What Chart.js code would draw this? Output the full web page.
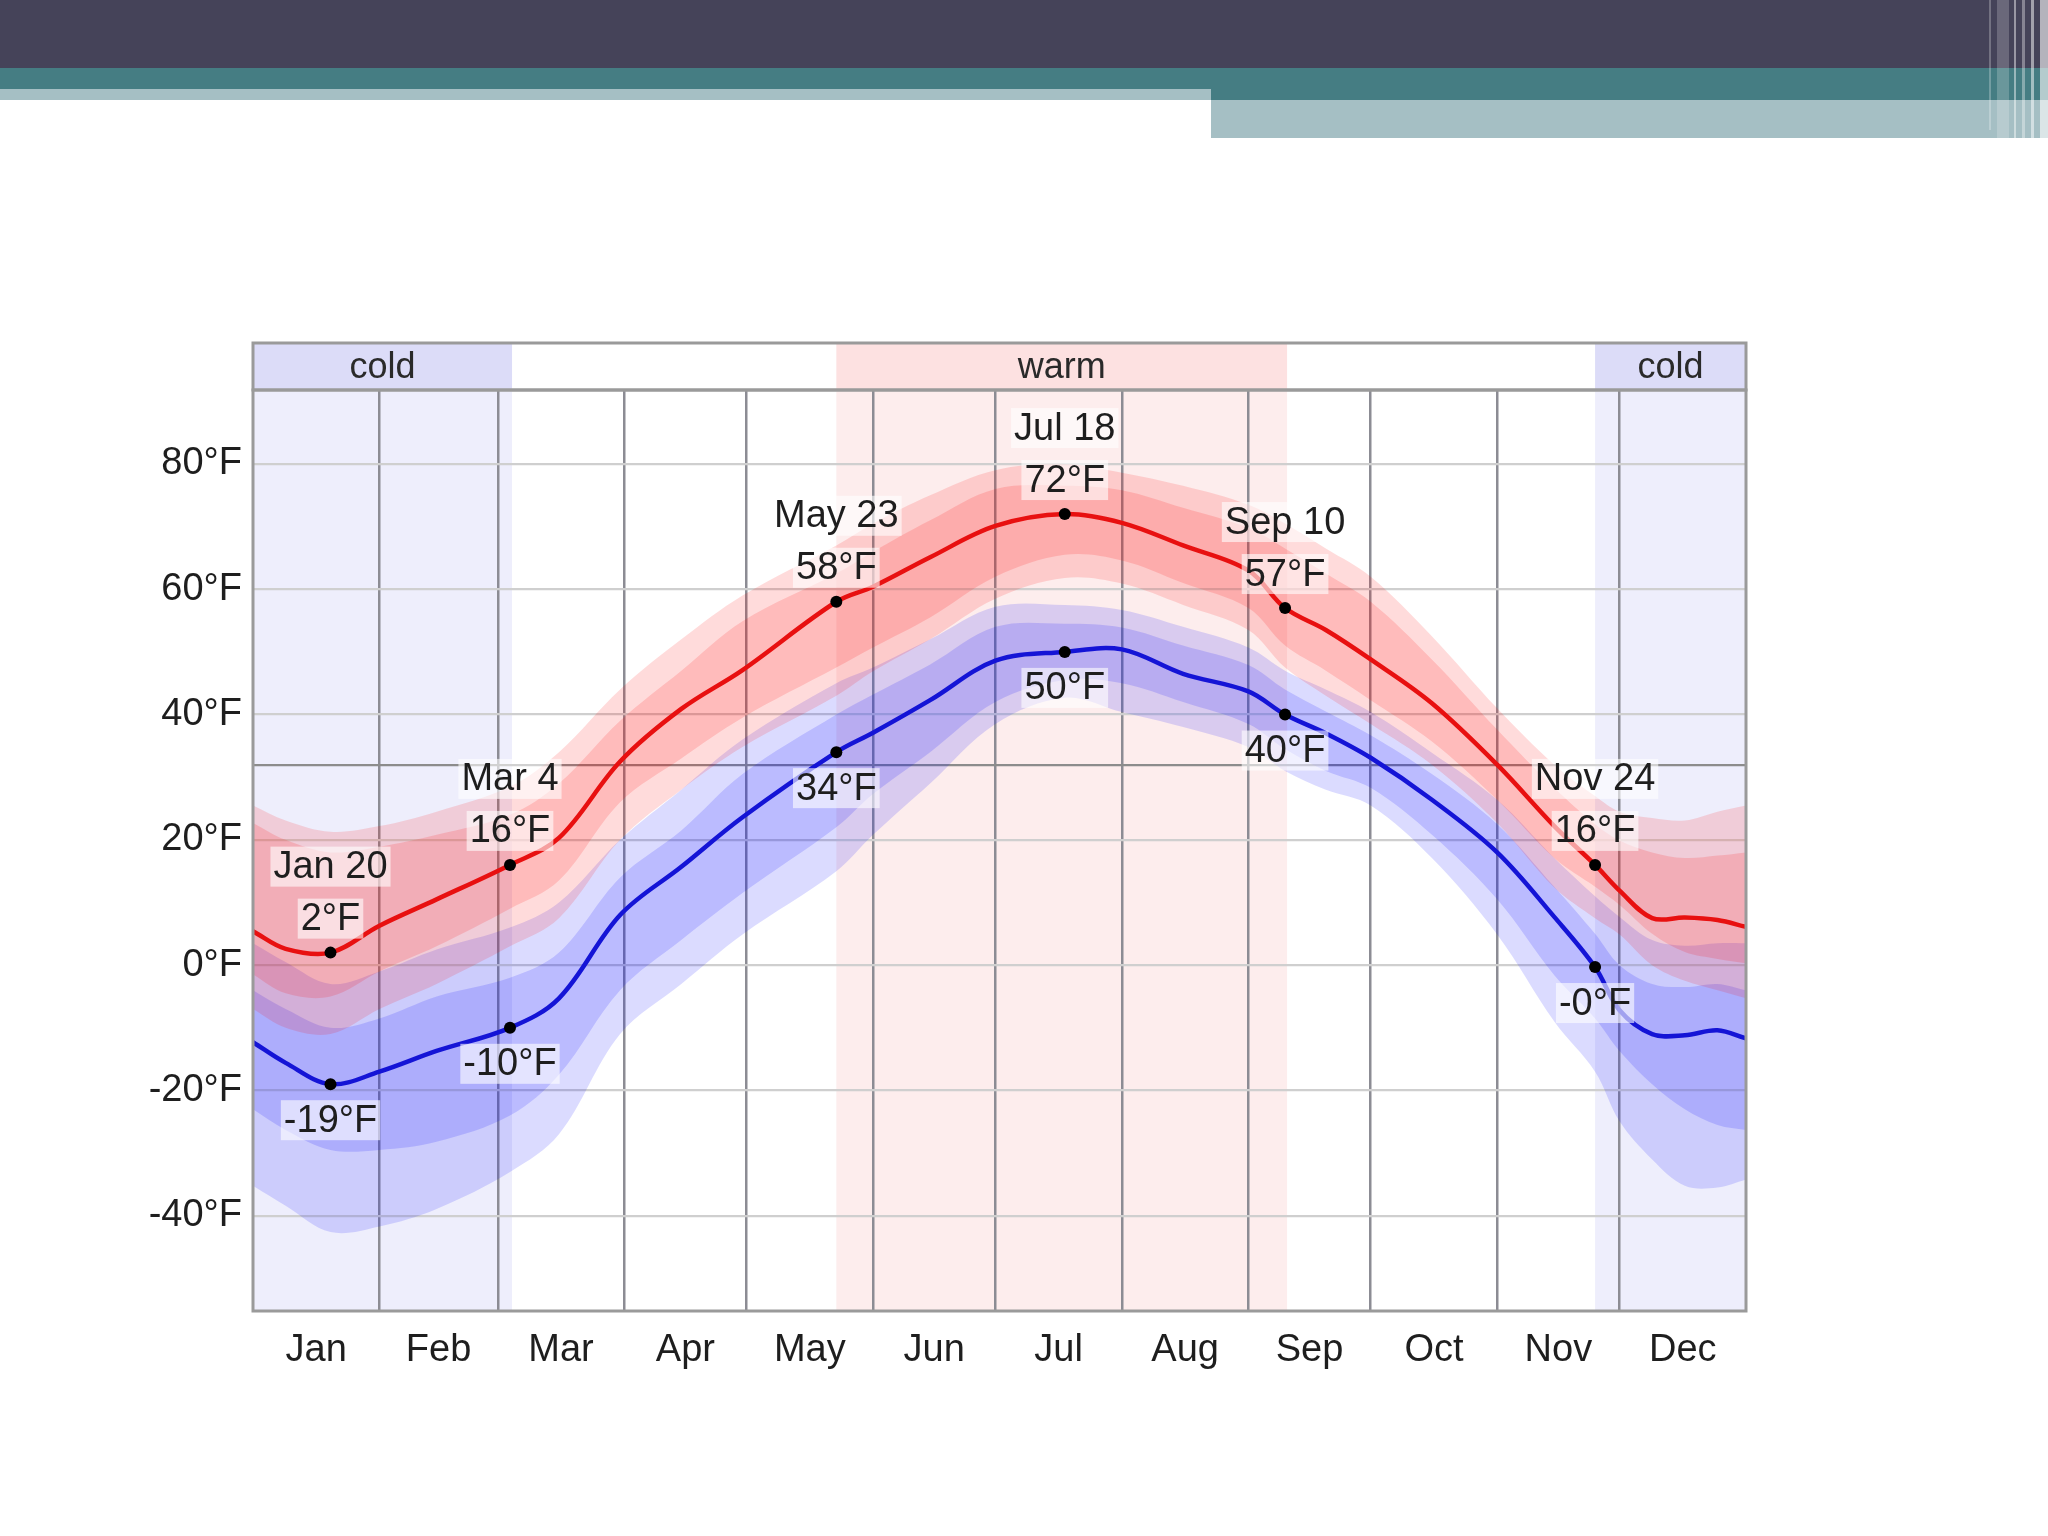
<!DOCTYPE html>
<html>
<head>
<meta charset="utf-8">
<script src="https://cdn.jsdelivr.net/npm/chart.js@4.4.1/dist/chart.umd.min.js"></script>
<style>
  html, body { margin: 0; padding: 0; background: #fff; }
  #page { position: relative; width: 2048px; height: 1536px; overflow: hidden; background: #fff; }
  .bar { position: absolute; }
  canvas { position: absolute; left: 0; top: 0; }
</style>
</head>
<body>
<div id="page">
  <div class="bar" style="left:0;top:0;width:2048px;height:68px;background:#454359"></div>
  <div class="bar" style="left:0;top:68px;width:2048px;height:21px;background:#457d83"></div>
  <div class="bar" style="left:0;top:89px;width:1211px;height:11px;background:#a5bfc4"></div>
  <div class="bar" style="left:1211px;top:89px;width:837px;height:11px;background:#457d83"></div>
  <div class="bar" style="left:1211px;top:100px;width:837px;height:38px;background:#a5bfc4"></div>
  <!-- thin stripes at the right edge of the banner -->
  <div class="bar" style="left:1989px;top:0;width:2px;height:130px;background:rgba(255,255,255,0.25)"></div>
  <div class="bar" style="left:1997px;top:0;width:12px;height:138px;background:rgba(255,255,255,0.2)"></div>
  <div class="bar" style="left:2014px;top:0;width:2px;height:138px;background:rgba(255,255,255,0.45)"></div>
  <div class="bar" style="left:2022px;top:0;width:3px;height:138px;background:rgba(255,255,255,0.35)"></div>
  <div class="bar" style="left:2031px;top:0;width:3px;height:138px;background:rgba(255,255,255,0.5)"></div>
  <div class="bar" style="left:2040px;top:0;width:8px;height:138px;background:rgba(255,255,255,0.6)"></div>
  <canvas id="c" width="2048" height="1536"></canvas>
</div>
<script>
// day of year (leap year, Jan 1 = 0) for each sample
const days = [0, 8, 19, 31, 45, 63, 75, 90, 105, 120, 143, 152, 166, 182, 199, 213, 228, 244, 253, 263, 274, 289, 305, 319, 329, 335, 343, 351, 359, 366];

// daily high, °F
const avgHigh = [5.4, 2.6, 2.0, 6.3, 10.5, 16, 20.3, 32.5, 40.9, 47.1, 58, 60.4, 65.1, 70.1, 72, 70.6, 67, 63, 57, 53.5, 48.8, 41.8, 32, 22.2, 16, 11.9, 7.5, 7.6, 7.2, 6.1];
const highP90 = [25.5, 23.1, 21.3, 22.2, 24.5, 28.5, 34, 44, 52, 59, 67, 70.5, 75, 79, 80, 78.6, 76.5, 73.5, 70.5, 66.5, 62, 52.5, 41, 32, 27, 24.5, 23.5, 23.1, 24.5, 25.5];
const highP75 = [22.7, 20, 18, 18.9, 20.8, 24, 29, 39, 47, 54.9, 62.5, 66, 71, 76, 76.5, 75.8, 73, 69.8, 66.5, 62.5, 58, 48.8, 37.6, 28.3, 22.5, 19.9, 18, 17.1, 17.5, 18];
const highP25 = [-1.5, -4.5, -5, -1, 3, 9, 13.5, 26, 33, 39.5, 47.5, 50.7, 55.5, 62, 65.5, 64.6, 61, 57, 51, 47, 42.3, 35.7, 26.4, 17.1, 12.5, 9.6, 5, 2.1, 1, 0.3];
const highP10 = [-7, -10, -11, -7, -3, 3, 7.5, 20, 28, 34.8, 43, 46.9, 52, 58.5, 61.8, 60.9, 57.5, 53.5, 47.5, 43, 38.5, 32, 22.7, 12.4, 7.5, 4.9, 0, -2.5, -4, -5.3];

// daily low, °F
const avgLow = [-12.3, -15.6, -19, -17, -13.7, -10, -5.3, 8, 15.7, 23.6, 34, 37.1, 42.3, 48.6, 50, 50.4, 46.5, 43.7, 40, 37, 33.1, 26.4, 18, 7.7, -0.3, -7.2, -11, -11.2, -10.4, -11.7];
const lowP90 = [3.5, 0.5, -3, -1, 2.5, 6, 10, 20, 28, 36, 45, 47.5, 52, 57.2, 57.5, 56.7, 54, 50.7, 47, 44, 40.4, 33.9, 26.4, 17.1, 11, 7.7, 4, 3.1, 3.5, 3.5];
const lowP75 = [-4, -7, -10, -8.5, -5, -2, 2, 14, 21.5, 30.5, 40, 43.2, 48, 54, 54.5, 53.9, 51, 47.9, 44, 40.5, 36.7, 30.5, 22.5, 12.5, 5, 0, -3, -3.5, -3, -4];
const lowP25 = [-23, -26.3, -29.5, -29.5, -28.2, -24, -17.5, -4, 4, 11.5, 22, 27.3, 34, 42, 45.5, 45, 42, 38.5, 34.5, 31, 28.3, 20.8, 10.5, -1.6, -8.5, -13.7, -19, -23, -25.5, -26.3];
const lowP10 = [-35.2, -38.4, -42.6, -41.7, -38.9, -33, -27, -11, -3, 4.9, 15, 20.8, 29, 38.5, 42.7, 40.4, 38, 34.8, 31, 28, 25.5, 17.1, 4.9, -9, -17, -24.9, -31, -35.2, -35.5, -34.2];

// labelled days
const markDays = [19, 63, 143, 199, 253, 329];
const markDates = ['Jan 20', 'Mar 4', 'May 23', 'Jul 18', 'Sep 10', 'Nov 24'];
const markHigh = [2, 16, 58, 72, 57, 16];
const markLow = [-19, -10, 34, 50, 40, -0.3];

// seasons
const seasonName = ['cold', 'warm', 'cold'];
const seasonFrom = [0, 143, 329];
const seasonTo = [63.5, 253.5, 366];

// axes
const monthNames = ['Jan', 'Feb', 'Mar', 'Apr', 'May', 'Jun', 'Jul', 'Aug', 'Sep', 'Oct', 'Nov', 'Dec'];
const monthStarts = [0, 31, 60, 91, 121, 152, 182, 213, 244, 274, 305, 335, 366];
const monthMids = [15.5, 45.5, 75.5, 106, 136.5, 167, 197.5, 228.5, 259, 289.5, 320, 350.5];
const yTicks = [-40, -20, 0, 20, 32, 40, 60, 80];

const pts = arr => days.map((d, i) => ({x: d, y: arr[i]}));
const fmtF = v => (v < 0 ? '-' : '') + Math.abs(Math.round(v)) + '°F';

const FONT = "'Liberation Sans', Arial, sans-serif";
Chart.defaults.font.family = FONT;
Chart.defaults.font.size = 38;
Chart.defaults.color = '#1e1e1e';

function band(data, color) {
  return {data: pts(data), fill: '+1', backgroundColor: color, borderWidth: 0, pointRadius: 0, tension: 0.35, order: 5};
}
function edge(data) {
  return {data: pts(data), fill: false, borderWidth: 0, pointRadius: 0, tension: 0.35, order: 5};
}

const seasonPlugin = {
  id: 'seasons',
  beforeDraw(chart) {
    const {ctx, chartArea: a, scales: {x}} = chart;
    ctx.save();
    seasonName.forEach((name, i) => {
      const x0 = x.getPixelForValue(seasonFrom[i]);
      const x1 = x.getPixelForValue(seasonTo[i]);
      ctx.fillStyle = name === 'cold' ? '#eeeefc' : '#fdeded';
      ctx.fillRect(x0, a.top, x1 - x0, a.bottom - a.top);
      ctx.fillStyle = name === 'cold' ? '#dcdcf8' : '#fde1e1';
      ctx.fillRect(x0, a.top - 47, x1 - x0, 47);
    });
    ctx.restore();
  },
  afterDraw(chart) {
    const {ctx, chartArea: a, scales: {x, y}} = chart;
    ctx.save();
    // frame + header strip
    ctx.strokeStyle = '#9a9a9a';
    ctx.lineWidth = 3;
    ctx.strokeRect(a.left, a.top, a.right - a.left, a.bottom - a.top);
    ctx.strokeRect(a.left, a.top - 47, a.right - a.left, 47);
    ctx.fillStyle = '#2a2a2a';
    ctx.font = '36px ' + FONT;
    ctx.textAlign = 'center';
    ctx.textBaseline = 'middle';
    seasonName.forEach((name, i) => {
      const cx = (x.getPixelForValue(seasonFrom[i]) + x.getPixelForValue(seasonTo[i])) / 2;
      ctx.fillText(name, cx, a.top - 22);
    });
    // annotations
    ctx.font = '38px ' + FONT;
    const label = (txt, cx, cy) => {
      const w = ctx.measureText(txt).width;
      ctx.fillStyle = 'rgba(255,255,255,0.6)';
      ctx.fillRect(cx - w / 2 - 3, cy - 20, w + 6, 40);
      ctx.fillStyle = '#1e1e1e';
      ctx.fillText(txt, cx, cy + 1);
    };
    markDays.forEach((d, i) => {
      const px = x.getPixelForValue(d);
      const ph = y.getPixelForValue(markHigh[i]);
      const pl = y.getPixelForValue(markLow[i]);
      label(markDates[i], px, ph - 86);
      label(fmtF(markHigh[i]), px, ph - 34);
      label(fmtF(markLow[i]), px, pl + 36);
    });
    ctx.restore();
  }
};

new Chart(document.getElementById('c'), {
  type: 'line',
  data: {
    datasets: [
      band(highP90, 'rgba(255,0,0,0.14)'),
      edge(highP10),
      band(highP75, 'rgba(255,0,0,0.15)'),
      edge(highP25),
      band(lowP90, 'rgba(0,0,255,0.14)'),
      edge(lowP10),
      band(lowP75, 'rgba(0,0,255,0.15)'),
      edge(lowP25),
      {data: pts(avgHigh), borderColor: '#e81010', borderWidth: 4.5, pointRadius: 0, fill: false, tension: 0.35, order: 2},
      {data: pts(avgLow), borderColor: '#1414d6', borderWidth: 4.5, pointRadius: 0, fill: false, tension: 0.35, order: 2},
      {data: markDays.map((d, i) => ({x: d, y: markHigh[i]})), showLine: false, pointRadius: 6, pointBackgroundColor: '#000', pointBorderWidth: 0, order: 1},
      {data: markDays.map((d, i) => ({x: d, y: markLow[i]})), showLine: false, pointRadius: 6, pointBackgroundColor: '#000', pointBorderWidth: 0, order: 1}
    ]
  },
  options: {
    responsive: false,
    devicePixelRatio: 1,
    animation: false,
    layout: {padding: {top: 390, right: 302, left: 0, bottom: 0}},
    plugins: {legend: {display: false}, tooltip: {enabled: false}},
    scales: {
      x: {
        type: 'linear',
        min: 0,
        max: 366,
        afterBuildTicks: s => { s.ticks = monthStarts.concat(monthMids).sort((a, b) => a - b).map(v => ({value: v})); },
        afterFit: s => { s.height = 225; },
        border: {display: false},
        grid: {
          drawTicks: false,
          color: c => (c.tick && monthStarts.includes(c.tick.value) && c.tick.value > 0 && c.tick.value < 366) ? '#8c8c94' : 'rgba(0,0,0,0)',
          lineWidth: 2.5
        },
        ticks: {
          autoSkip: false,
          maxRotation: 0,
          padding: 17,
          color: '#1e1e1e',
          callback: v => { const k = monthMids.indexOf(v); return k >= 0 ? monthNames[k] : ''; }
        }
      },
      y: {
        min: -55.2,
        max: 91.8,
        afterBuildTicks: s => { s.ticks = yTicks.map(v => ({value: v})); },
        afterFit: s => { s.width = 253; },
        border: {display: false},
        grid: {
          drawTicks: false,
          color: c => (c.tick && c.tick.value === 32) ? '#8c8c8c' : '#cfcfcf',
          lineWidth: 2.2
        },
        ticks: {
          padding: 11,
          color: '#1e1e1e',
          callback: v => v === 32 ? '' : v + '°F'
        }
      }
    }
  },
  plugins: [seasonPlugin]
});
</script>
</body>
</html>
